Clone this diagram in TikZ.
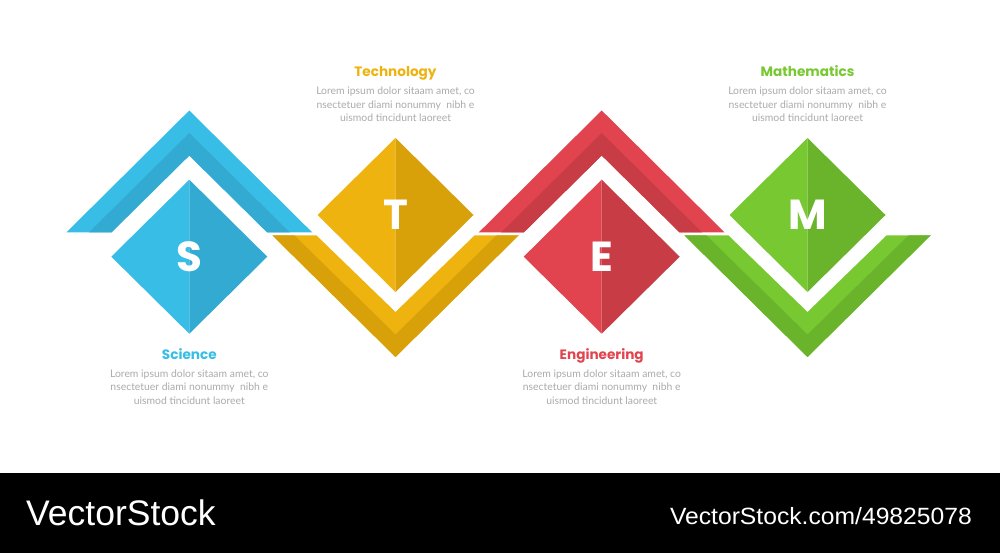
\documentclass[tikz,border=0pt]{standalone}
\usepackage{fontspec}
\newfontfamily\titlefont{Poppins}
\newfontfamily\bodyfont{Lato}
\newfontfamily\wmfont{Liberation Sans}
\definecolor{blueL}{HTML}{38BEE6}
\definecolor{blueD}{HTML}{33AAD2}
\definecolor{yelL}{HTML}{EFB30F}
\definecolor{yelD}{HTML}{D8A10A}
\definecolor{redL}{HTML}{E1444E}
\definecolor{redD}{HTML}{C83C46}
\definecolor{grnL}{HTML}{78C832}
\definecolor{grnD}{HTML}{69B42A}
\definecolor{bodygrey}{HTML}{ABABAB}
\newcommand\upchevron[3]{%
  \fill[#2] (#1-123,232.5) -- (#1,110.5) -- (#1+123,232.5) -- (#1+78,232.5) -- (#1,155.5) -- (#1-78,232.5) -- cycle;
  \fill[#3] (#1-100.5,232.5) -- (#1,133) -- (#1+100.5,232.5) -- (#1+78,232.5) -- (#1,155.5) -- (#1-78,232.5) -- cycle;}
\newcommand\downchevron[3]{%
  \fill[#2] (#1-123,235.5) -- (#1,357) -- (#1+123,235.5) -- (#1+79,235.5) -- (#1,312) -- (#1-79,235.5) -- cycle;
  \fill[#3] (#1-123,235.5) -- (#1,357) -- (#1+123,235.5) -- (#1+101,235.5) -- (#1,334.5) -- (#1-101,235.5) -- cycle;}
\newcommand\gem[5]{%
  \fill[#3] (#1,#2-77) -- (#1-78,#2) -- (#1,#2+77) -- cycle;
  \fill[#4] (#1,#2-77) -- (#1+78,#2) -- (#1,#2+77) -- cycle;
  \node[letter] (#5) at (#1,#2) {#5};}
\tikzset{
  letter/.style={text=white,font=\titlefont\bfseries\fontsize{42}{42}\selectfont,inner sep=0pt},
  title/.style={font=\titlefont\bfseries\fontsize{13.6}{15}\selectfont,inner sep=0pt,anchor=base},
  body/.style={text=bodygrey,font=\bodyfont\fontsize{10.4}{13.5}\selectfont,align=center,inner sep=0pt,anchor=north},
}
\begin{document}
\begin{tikzpicture}[x=1pt,y=-1pt]
\useasboundingbox (0,0) rectangle (1000,553);
\fill[white] (0,0) rectangle (1000,553);
% chevrons
\upchevron{189.3}{blueL}{blueD}
\downchevron{395.5}{yelL}{yelD}
\upchevron{601.7}{redL}{redD}
\downchevron{807.5}{grnL}{grnD}
% diamonds
\gem{189.3}{256.7}{blueL}{blueD}{S}
\gem{395.5}{215}{yelL}{yelD}{T}
\gem{601.7}{256.7}{redL}{redD}{E}
\gem{807.5}{215}{grnL}{grnD}{M}
% titles and texts
\node[title,text=yelL] (tT) at (395.5,77) {Technology};
\node[body] (bT) at (395.5,87) {Lorem ipsum dolor sitaam amet, co\\nsectetuer diami nonummy\ \ nibh e\\uismod tincidunt laoreet};
\node[title,text=grnL] (tM) at (807.5,77) {Mathematics};
\node[body] (bM) at (807.5,87) {Lorem ipsum dolor sitaam amet, co\\nsectetuer diami nonummy\ \ nibh e\\uismod tincidunt laoreet};
\node[title,text=blueL] (tS) at (189.3,359.3) {Science};
\node[body] (bS) at (189.3,369.5) {Lorem ipsum dolor sitaam amet, co\\nsectetuer diami nonummy\ \ nibh e\\uismod tincidunt laoreet};
\node[title,text=redL] (tE) at (601.7,359.3) {Engineering};
\node[body] (bE) at (601.7,369.5) {Lorem ipsum dolor sitaam amet, co\\nsectetuer diami nonummy\ \ nibh e\\uismod tincidunt laoreet};
% watermark bar
\fill[black] (0,473) rectangle (1000,553);
\node[text=white,font=\wmfont\fontsize{35.5}{35.5}\selectfont,anchor=base west,inner sep=0pt] (wm1) at (26,525) {VectorStock};
\node[text=white,font=\wmfont\fontsize{23.5}{23.5}\selectfont,anchor=base east,inner sep=0pt] (wm2) at (972,524) {\addfontfeature{FakeStretch=1.05}VectorStock.com/49825078};
\end{tikzpicture}
\end{document}
